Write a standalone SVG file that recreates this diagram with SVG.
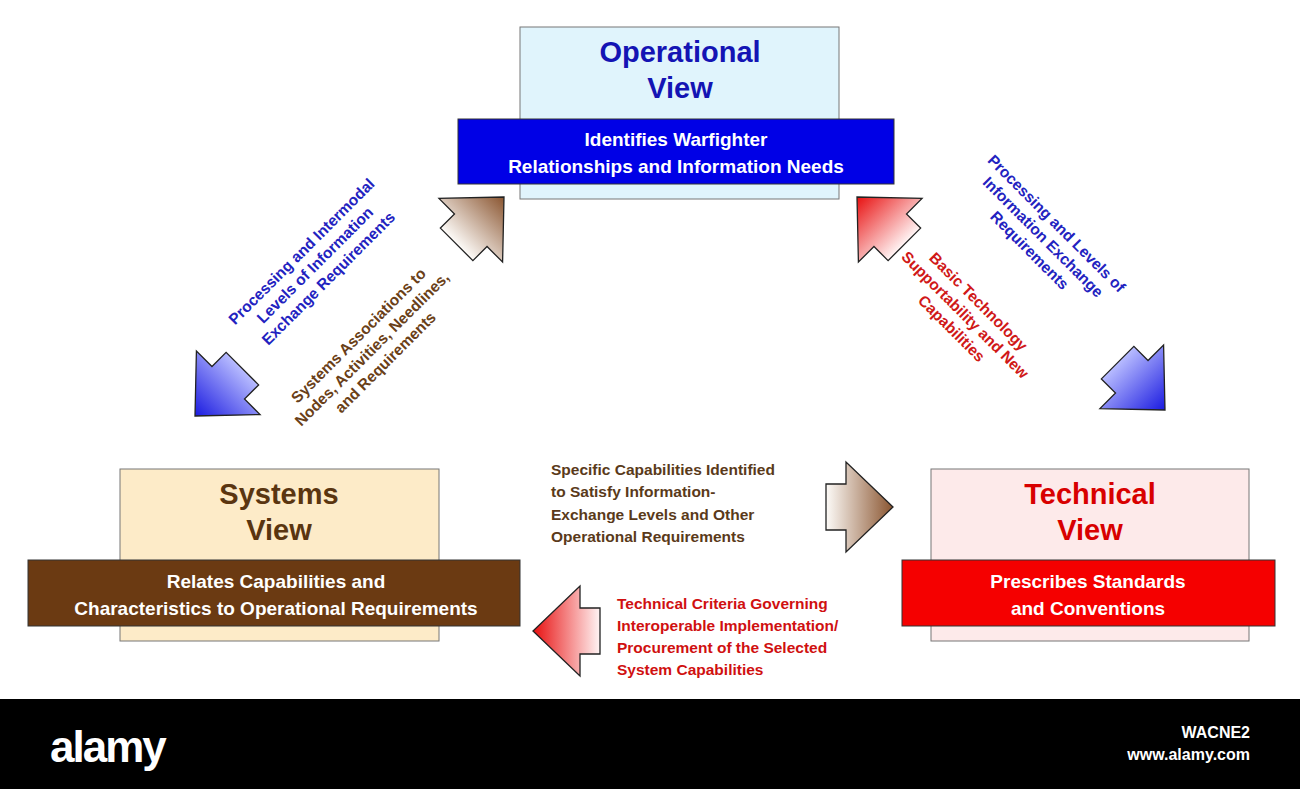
<svg xmlns="http://www.w3.org/2000/svg" width="1300" height="789" viewBox="0 0 1300 789">
<style>
text{font-family:"Liberation Sans",Arial,sans-serif;font-weight:bold}
.title{font-size:29px;text-anchor:middle}
.band{font-size:19px;fill:#fff;text-anchor:middle}
.lbl{font-size:15.5px}
.arr{stroke:#222;stroke-width:1.3}
</style>
<defs>
<path id="ah" d="M0,0 L-47,-45 L-47,-23 L-67,-23 L-67,23 L-47,23 L-47,45 Z"/>
<linearGradient id="gb" gradientUnits="userSpaceOnUse" x1="-67" y1="0" x2="0" y2="0"><stop offset="0" stop-color="#b8bcff"/><stop offset="1" stop-color="#1a1ae0"/></linearGradient>
<linearGradient id="gr" gradientUnits="userSpaceOnUse" x1="-67" y1="0" x2="0" y2="0"><stop offset="0" stop-color="#fff4f4"/><stop offset="1" stop-color="#e81010"/></linearGradient>
<linearGradient id="gw" gradientUnits="userSpaceOnUse" x1="-67" y1="0" x2="0" y2="0"><stop offset="0" stop-color="#fdfbf8"/><stop offset="1" stop-color="#8a5530"/></linearGradient>
</defs>
<rect width="1300" height="789" fill="#fff"/>
<g id="operational">
<rect x="520" y="27" width="319" height="172" fill="#e0f4fc" stroke="#777"/>
<text class="title" x="680" y="62" fill="#1414b4">Operational</text>
<text class="title" x="680" y="98" fill="#1414b4">View</text>
<rect x="458" y="119" width="436" height="65" fill="#0000e6" stroke="#333"/>
<text class="band" x="676" y="146">Identifies Warfighter</text>
<text class="band" x="676" y="173">Relationships and Information Needs</text>
</g>
<g id="systems">
<rect x="120" y="469" width="319" height="172" fill="#fdebc8" stroke="#777"/>
<text class="title" x="279" y="504" fill="#5a3510">Systems</text>
<text class="title" x="279" y="540" fill="#5a3510">View</text>
<rect x="28" y="560" width="492" height="66" fill="#6b3a12" stroke="#333"/>
<text class="band" x="276" y="588">Relates Capabilities and</text>
<text class="band" x="276" y="615">Characteristics to Operational Requirements</text>
</g>
<g id="technical">
<rect x="931" y="469" width="318" height="172" fill="#fdeaea" stroke="#777"/>
<text class="title" x="1090" y="504" fill="#d80000">Technical</text>
<text class="title" x="1090" y="540" fill="#d80000">View</text>
<rect x="902" y="560" width="373" height="66" fill="#f50000" stroke="#333"/>
<text class="band" x="1088" y="588">Prescribes Standards</text>
<text class="band" x="1088" y="615">and Conventions</text>
</g>
<g id="connectors">
<use href="#ah" class="arr" fill="url(#gb)" transform="translate(195,416) rotate(135)"/>
<use href="#ah" class="arr" fill="url(#gw)" transform="translate(504,197) rotate(-45)"/>
<use href="#ah" class="arr" fill="url(#gr)" transform="translate(857,197) rotate(-135)"/>
<use href="#ah" class="arr" fill="url(#gb)" transform="translate(1165,410) rotate(45)"/>
<use href="#ah" class="arr" fill="url(#gw)" transform="translate(893,507) scale(1,1)"/>
<use href="#ah" class="arr" fill="url(#gr)" transform="translate(533,631) rotate(180)"/>
</g>
<g id="labels">
<g transform="translate(318,268) rotate(-45)" fill="#2222c0" text-anchor="middle" class="lbl">
<text class="lbl" x="0" y="-18">Processing and Intermodal</text>
<text class="lbl" x="0" y="1">Levels of Information</text>
<text class="lbl" x="0" y="20">Exchange Requirements</text>
</g>
<g transform="translate(375,352) rotate(-45)" fill="#6a3f18" text-anchor="middle">
<text class="lbl" x="0" y="-18">Systems Associations to</text>
<text class="lbl" x="0" y="1">Nodes, Activities, Needlines,</text>
<text class="lbl" x="0" y="20">and Requirements</text>
</g>
<g transform="translate(1040,240) rotate(45)" fill="#2222c0" text-anchor="middle">
<text class="lbl" x="0" y="-18">Processing and Levels of</text>
<text class="lbl" x="0" y="1">Information Exchange</text>
<text class="lbl" x="0" y="20">Requirements</text>
</g>
<g transform="translate(962,318) rotate(45)" fill="#d01818" text-anchor="middle">
<text class="lbl" x="0" y="-18">Basic Technology</text>
<text class="lbl" x="0" y="1">Supportability and New</text>
<text class="lbl" x="0" y="20">Capabilities</text>
</g>
<g fill="#5a3a1a">
<text class="lbl" x="551" y="475">Specific Capabilities Identified</text>
<text class="lbl" x="551" y="497">to Satisfy Information-</text>
<text class="lbl" x="551" y="520">Exchange Levels and Other</text>
<text class="lbl" x="551" y="542">Operational Requirements</text>
</g>
<g fill="#d01010">
<text class="lbl" x="617" y="609">Technical Criteria Governing</text>
<text class="lbl" x="617" y="631">Interoperable Implementation/</text>
<text class="lbl" x="617" y="653">Procurement of the Selected</text>
<text class="lbl" x="617" y="675">System Capabilities</text>
</g>
</g>
<g id="footer">
<rect x="0" y="699" width="1300" height="90" fill="#000"/>
<text x="50" y="762" fill="#fff" style="font-size:44px;font-weight:bold;letter-spacing:-2px">alamy</text>
<text x="1250" y="738" fill="#fff" text-anchor="end" style="font-size:16px">WACNE2</text>
<text x="1250" y="760" fill="#fff" text-anchor="end" style="font-size:16px">www.alamy.com</text>
</g>
</svg>
